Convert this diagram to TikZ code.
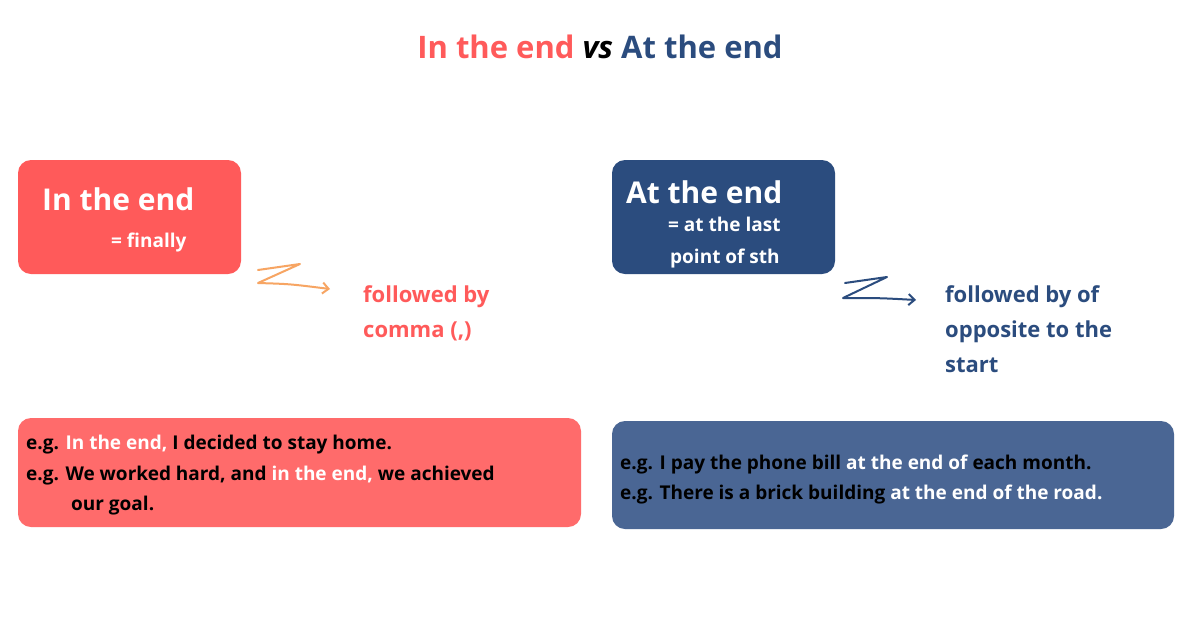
\documentclass[tikz,border=0pt]{standalone}
\usepackage{fontspec}
\setmainfont{Open Sans}[BoldFont={* Bold}]
\usetikzlibrary{arrows.meta}
\definecolor{cred}{HTML}{FF5A5A}
\definecolor{cred2}{HTML}{FF6B6B}
\definecolor{cnavy}{HTML}{2B4C7E}
\definecolor{cnavy2}{HTML}{4A6694}
\definecolor{corange}{HTML}{F7A563}
\tikzset{
 box/.style={rounded corners=13pt},
 txt/.style={anchor=base west,inner sep=0pt,font=\bfseries},
 squig/.style={line width=2pt,line cap=round,line join=round,-{Straight Barb[length=6pt,width=11pt]}}
}
\begin{document}
\begin{tikzpicture}[x=1pt,y=-1pt]
\useasboundingbox (0,0) rectangle (1200,630);
\fill[white] (0,0) rectangle (1200,630);
\node[anchor=base,inner sep=0pt,font=\bfseries\fontsize{31}{36}\selectfont] (title) at (600,58)
 {\textcolor{cred}{In the end} \textit{vs} \textcolor{cnavy}{At the end}};
% red top box
\fill[box,cred] (18,160) rectangle (241,274);
\node[txt,white,font=\bfseries\fontsize{30}{34}\selectfont] (a1) at (42,210) {In the end};
\node[txt,white,font=\bfseries\fontsize{19}{22}\selectfont] (a2) at (111,247) {= finally};
% navy top box
\fill[box,cnavy] (612,160) rectangle (835,274);
\node[txt,white,font=\bfseries\fontsize{30}{34}\selectfont] (b1) at (626,203) {At the end};
\node[txt,white,font=\bfseries\fontsize{19}{22}\selectfont] (b2) at (668,231) {= at the last};
\node[txt,white,font=\bfseries\fontsize{19}{22}\selectfont] (b3) at (670,263) {point of sth};
% arrows
\coordinate (o1) at (258,270); \coordinate (o2) at (300,264); \coordinate (o3) at (258,283); \coordinate (o4) at (330,289);
\draw[squig,corange] (o1) -- (o2) -- (o3) .. controls (290,284) .. (o4);
\coordinate (n1) at (845,283); \coordinate (n2) at (887,277); \coordinate (n3) at (843,298); \coordinate (n4) at (916,300);
\draw[squig,cnavy] (n1) -- (n2) -- (n3) .. controls (880,298) .. (n4);
% side texts
\node[txt,cred,font=\bfseries\fontsize{22}{26}\selectfont] at (363,302) {followed by};
\node[txt,cred,font=\bfseries\fontsize{22}{26}\selectfont] at (363,337) {comma (,)};
\node[txt,cnavy,font=\bfseries\fontsize{22}{26}\selectfont] at (945,302) {followed by of};
\node[txt,cnavy,font=\bfseries\fontsize{22}{26}\selectfont] at (945,337) {opposite to the};
\node[txt,cnavy,font=\bfseries\fontsize{22}{26}\selectfont] at (945,372) {start};
% bottom boxes
\fill[box,cred2] (18,418) rectangle (581,527);
\begin{scope}[every node/.style={txt,font=\bfseries\fontsize{19}{22}\selectfont}]
\node at (26,449) {e.g. \textcolor{white}{In the end,} I decided to stay home.};
\node at (26,480) {e.g. We worked hard, and \textcolor{white}{in the end,} we achieved};
\node at (71,510) {our goal.};
\end{scope}
\fill[box,cnavy2] (612,421) rectangle (1174,529);
\begin{scope}[every node/.style={txt,font=\bfseries\fontsize{19}{22}\selectfont}]
\node at (620,469) {e.g. I pay the phone bill \textcolor{white}{at the end of} each month.};
\node at (620,499) {e.g. There is a brick building \textcolor{white}{at the end of the road.}};
\end{scope}
\end{tikzpicture}
\end{document}
